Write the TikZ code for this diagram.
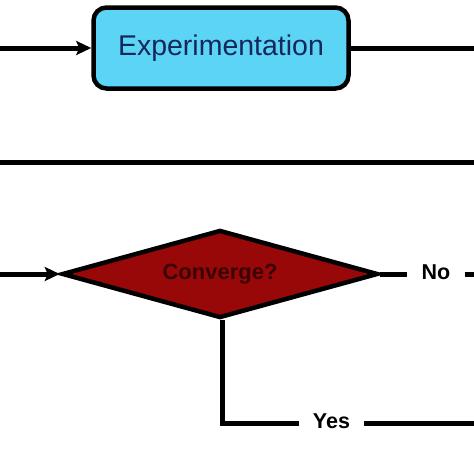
\documentclass[tikz,border=0pt]{standalone}
\usepackage{fontspec}
\setmainfont{Liberation Sans}
\usetikzlibrary{shapes.geometric,arrows.meta}
\definecolor{boxcyan}{HTML}{5CD4F6}
\definecolor{boxtext}{HTML}{14285A}
\definecolor{diared}{HTML}{980808}
\definecolor{diatext}{HTML}{3A0404}
\tikzset{
  conn/.style={line width=5pt, draw=black},
  arr/.style={conn, -{Stealth[length=15pt,width=14pt,inset=3pt]}},
  procbox/.style={draw=black, line width=4.5pt, fill=boxcyan, rounded corners=13pt,
    minimum width=255pt, minimum height=81pt, inner sep=0pt, text=boxtext,
    font=\fontsize{28.5}{30}\selectfont},
  decision/.style={diamond, aspect=3.59, draw=black, line width=4.5pt, fill=diared,
    minimum width=316pt, minimum height=88pt, inner sep=0pt, text=diatext,
    font=\fontsize{22}{24}\selectfont\bfseries},
  lbl/.style={inner xsep=14pt, inner ysep=2pt, font=\fontsize{21.5}{24}\selectfont\bfseries}
}
\begin{document}
\begin{tikzpicture}[x=1pt,y=-1pt]
\useasboundingbox (0,0) rectangle (474,474);
\node[procbox] (exp) at (221,48) {\raisebox{-2pt}{Experimentation}};
\coordinate (inA) at (0,48);
\coordinate (outA) at (474,48);
\draw[arr] (inA) -- (exp.west);
\draw[conn] (exp.east) -- (outA);
\coordinate (sepL) at (0,162);
\coordinate (sepR) at (474,162);
\draw[line width=5pt] (sepL) -- (sepR);
\node[decision] (conv) at (220,274) {\raisebox{2pt}{Converge?}};
\coordinate (inB) at (0,274);
\draw[arr] (inB) -- (conv.west);
\node[lbl] (no) at (436,272) {No};
\coordinate (noR) at (474,274);
\draw[conn] (conv.east) -- (no.west |- conv.east);
\draw[conn] (no.east |- noR) -- (noR);
\node[lbl] (yes) at (331.5,421) {Yes};
\coordinate (yesR) at (474,423);
\coordinate (yesC) at (222,423);
\draw[conn] (conv.south -| yesC) -- (yesC) -- (yes.west |- yesC);
\draw[conn] (yes.east |- yesR) -- (yesR);
\end{tikzpicture}
\end{document}
